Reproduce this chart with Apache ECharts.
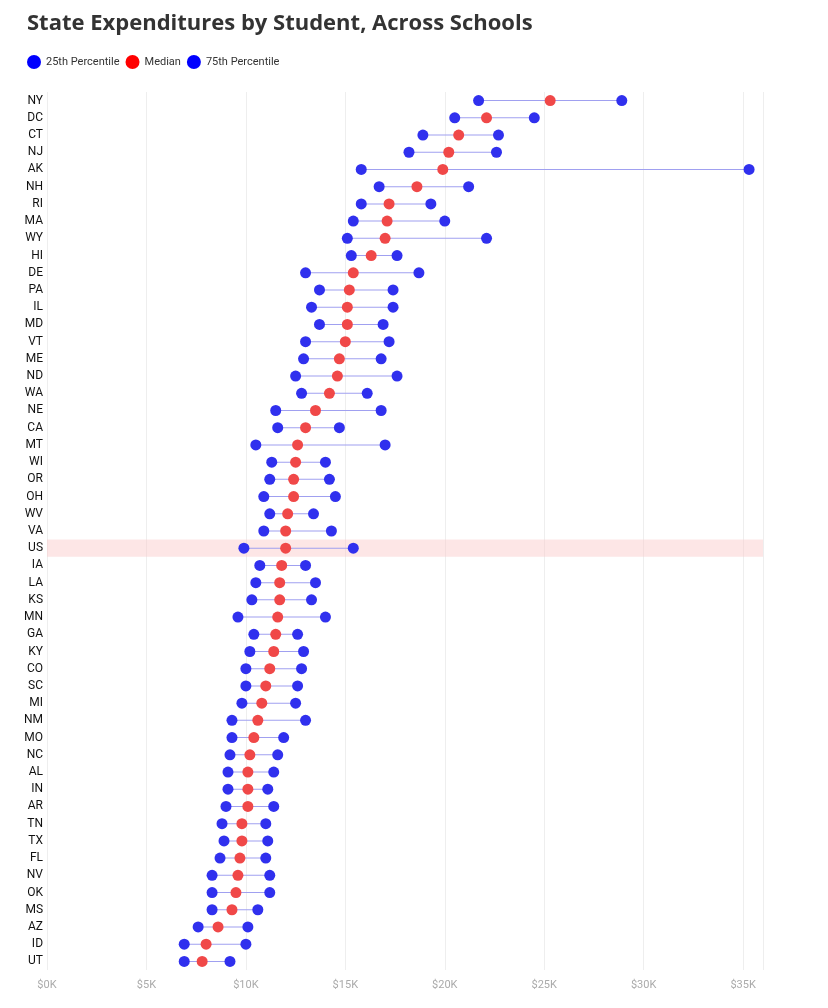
<!DOCTYPE html>
<html><head><meta charset="utf-8">
<script src="https://cdn.jsdelivr.net/npm/echarts@6/dist/echarts.min.js"></script>
<style>html,body{margin:0;padding:0;background:#fff}#c{width:828px;height:1008px}</style>
</head><body><div id="c"></div>
<script>
const states=["NY","DC","CT","NJ","AK","NH","RI","MA","WY","HI","DE","PA","IL","MD","VT","ME","ND","WA","NE","CA","MT","WI","OR","OH","WV","VA","US","IA","LA","KS","MN","GA","KY","CO","SC","MI","NM","MO","NC","AL","IN","AR","TN","TX","FL","NV","OK","MS","AZ","ID","UT"];
const p25=[21.7,20.5,18.9,18.2,15.8,16.7,15.8,15.4,15.1,15.3,13.0,13.7,13.3,13.7,13.0,12.9,12.5,12.8,11.5,11.6,10.5,11.3,11.2,10.9,11.2,10.9,9.9,10.7,10.5,10.3,9.6,10.4,10.2,10.0,10.0,9.8,9.3,9.3,9.2,9.1,9.1,9.0,8.8,8.9,8.7,8.3,8.3,8.3,7.6,6.9,6.9];
const median=[25.3,22.1,20.7,20.2,19.9,18.6,17.2,17.1,17.0,16.3,15.4,15.2,15.1,15.1,15.0,14.7,14.6,14.2,13.5,13.0,12.6,12.5,12.4,12.4,12.1,12.0,12.0,11.8,11.7,11.7,11.6,11.5,11.4,11.2,11.0,10.8,10.6,10.4,10.2,10.1,10.1,10.1,9.8,9.8,9.7,9.6,9.5,9.3,8.6,8.0,7.8];
const p75=[28.9,24.5,22.7,22.6,35.3,21.2,19.3,20.0,22.1,17.6,18.7,17.4,17.4,16.9,17.2,16.8,17.6,16.1,16.8,14.7,17.0,14.0,14.2,14.5,13.4,14.3,15.4,13.0,13.5,13.3,14.0,12.6,12.9,12.8,12.6,12.5,13.0,11.9,11.6,11.4,11.1,11.4,11.0,11.1,11.0,11.2,11.2,10.6,10.1,10.0,9.2];
const xTicks=[0,5,10,15,20,25,30,35];
const BLUE='#3030ee',RED='#f04848';
const chart=echarts.init(document.getElementById('c'));
chart.setOption({
 animation:false,
 title:{text:'State Expenditures by Student, Across Schools',left:22,top:8,textStyle:{fontFamily:'Open Sans',fontSize:22,fontWeight:'bold',color:'#333'}},
 legend:{left:22,top:50,itemWidth:14,itemHeight:14,itemGap:6,textStyle:{fontFamily:'Roboto',fontSize:11,color:'#333'},
   data:[{name:'25th Percentile',icon:'circle',itemStyle:{color:'#0000ff',opacity:1}},{name:'Median',icon:'circle',itemStyle:{color:'#ff0000',opacity:1}},{name:'75th Percentile',icon:'circle',itemStyle:{color:'#0000ff',opacity:1}}]},
 grid:{left:47,right:65,top:92,bottom:38},
 xAxis:{type:'value',min:0,max:36,interval:5,
   axisLabel:{color:'#aaa',fontFamily:'Roboto',fontSize:11,margin:10,formatter:v=>xTicks.includes(v)?'$'+v+'K':''},
   splitLine:{lineStyle:{color:'#eee'}},axisLine:{show:false},axisTick:{show:false}},
 yAxis:{type:'category',data:states,inverse:true,axisLine:{show:false},axisTick:{show:false},splitLine:{show:false},
   axisLabel:{color:'#111',fontFamily:'Roboto',fontSize:12,margin:4}},
 series:[
  {type:'bar',stack:'r',data:p25,itemStyle:{color:'transparent'},barWidth:1,silent:true,
   markArea:{silent:true,itemStyle:{color:'rgba(250,200,200,0.45)'},data:[[{yAxis:'US',x:47},{yAxis:'US',x:763}]]}},
  {type:'bar',stack:'r',data:p75.map((v,i)=>+(v-p25[i]).toFixed(2)),itemStyle:{color:'#a0a0f0'},barWidth:1,silent:true},
  {name:'25th Percentile',type:'scatter',data:p25.map((v,i)=>[v,states[i]]),symbolSize:11,itemStyle:{color:BLUE,opacity:1},z:5},
  {name:'75th Percentile',type:'scatter',data:p75.map((v,i)=>[v,states[i]]),symbolSize:11,itemStyle:{color:BLUE,opacity:1},z:5},
  {name:'Median',type:'scatter',data:median.map((v,i)=>[v,states[i]]),symbolSize:11,itemStyle:{color:RED,opacity:1},z:6}
 ]
});
</script></body></html>
